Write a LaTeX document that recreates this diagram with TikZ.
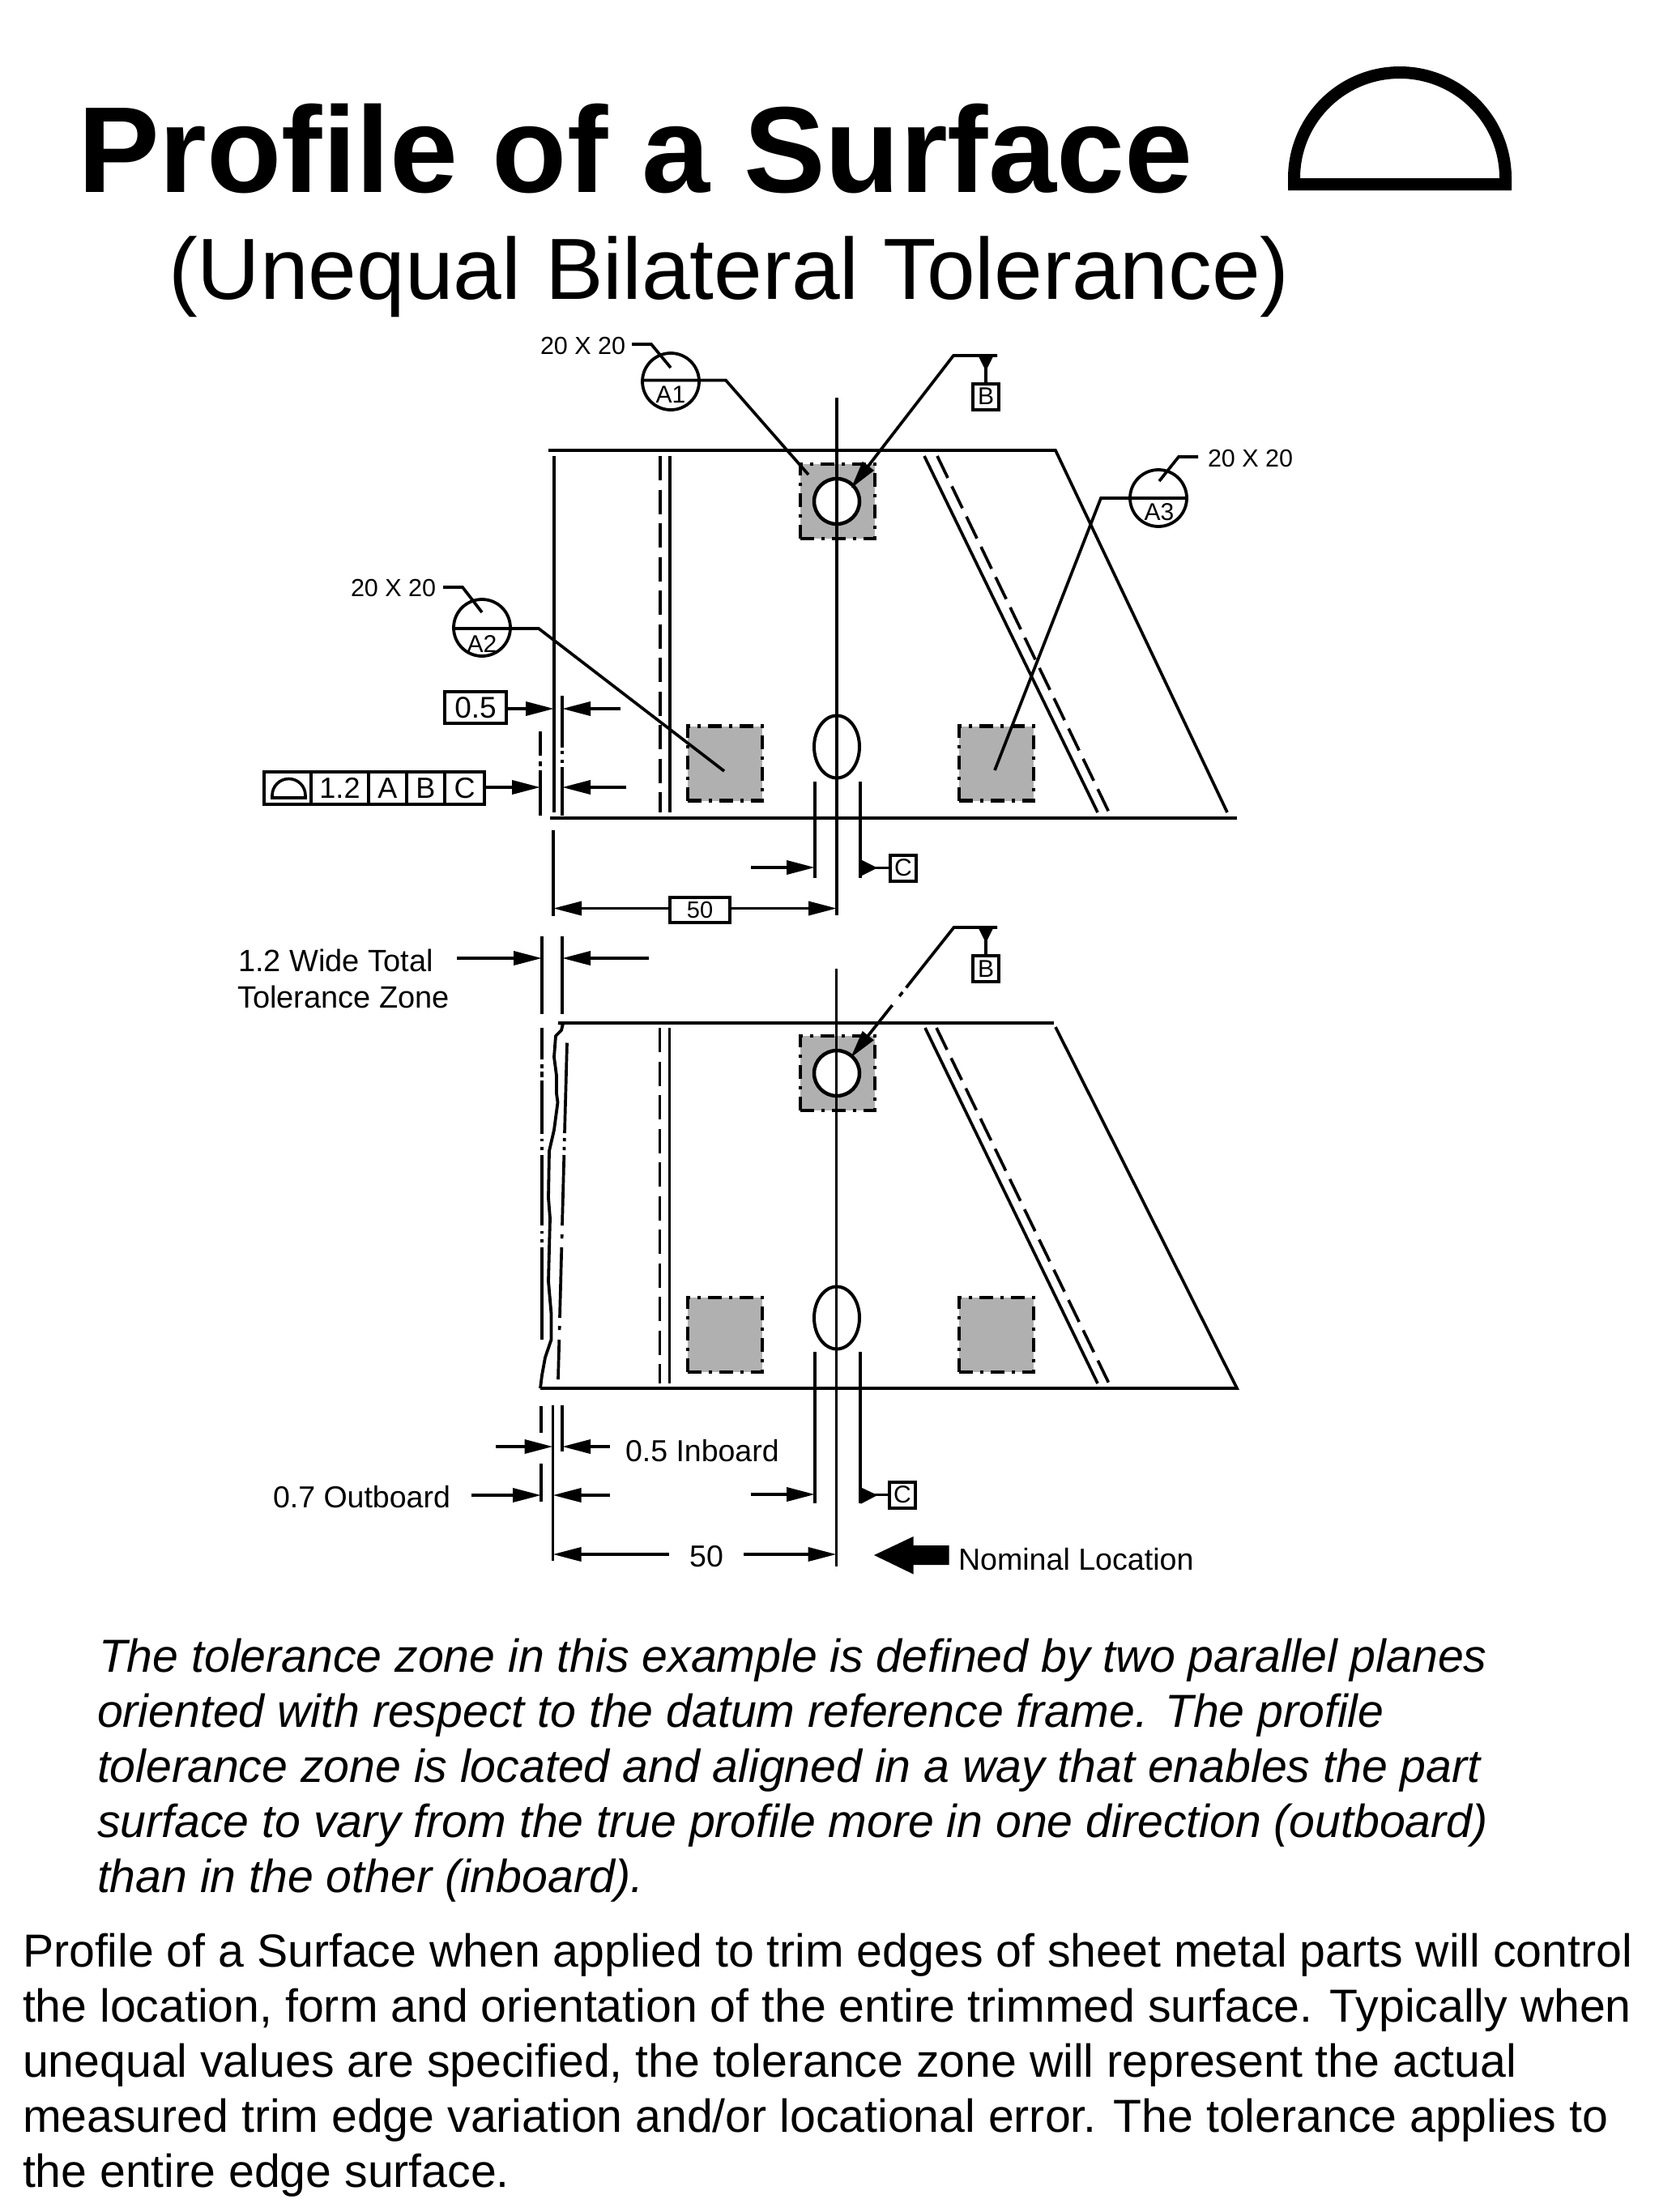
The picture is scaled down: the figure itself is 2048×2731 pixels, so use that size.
\documentclass[tikz,border=0pt]{standalone}
\usepackage{fontspec}
\setmainfont{Liberation Sans}
\usetikzlibrary{arrows.meta,shapes.geometric}
\newcommand{\fsz}[1]{\fontsize{#1}{#1}\selectfont}
\definecolor{zonegray}{HTML}{B0B0B0}
\tikzset{
  ln/.style={line width=3.7pt,line cap=butt,line join=miter},
  ldash/.style={ln,dash pattern=on 30pt off 11.5pt},
  dimarrow/.style={ln,-{Triangle[length=35pt,width=17pt]}},
  zone/.style={rectangle,draw=black,fill=zonegray,line width=4.5pt,minimum width=92pt,minimum height=92pt,inner sep=0pt,outer sep=0pt,dash pattern=on 17pt off 9pt on 4pt off 9pt},
  hole/.style={circle,draw=black,fill=white,line width=4.5pt,minimum size=56pt,inner sep=0pt,outer sep=0pt},
  slot/.style={ellipse,draw=black,line width=4pt,minimum width=56pt,minimum height=77pt,inner sep=0pt,outer sep=0pt},
  balloon/.style={circle,draw=black,line width=3.8pt,minimum size=70pt,inner sep=0pt,outer sep=0pt},
  txt/.style={inner sep=0pt,outer sep=0pt,anchor=base west},
  ctxt/.style={inner sep=0pt,outer sep=0pt,anchor=base},
  databox/.style={rectangle,draw=black,line width=4pt,minimum size=32pt,inner sep=0pt,outer sep=0pt,font=\fsz{30},text height=20pt,text depth=0pt},
  fcf/.style={rectangle,draw=black,line width=4pt,minimum height=40pt,inner sep=0pt,outer sep=0pt,font=\fsz{36},text height=26pt,text depth=0pt},
  dimbox/.style={rectangle,draw=black,line width=4pt,inner sep=0pt,outer sep=0pt}
}
\begin{document}
\begin{tikzpicture}[x=1pt,y=-1pt]
\useasboundingbox (0,0) rectangle (2048,2731);

% Title
\node[txt,font=\bfseries\fsz{151}] (title) at (96,237) {Profile of a Surface};
\node[txt,font=\fsz{107.3}] (subtitle) at (208,369) {(Unequal Bilateral Tolerance)};
\draw[line width=15pt,line join=miter] (1597.5,227.5) -- (1597.5,220) arc[start angle=180,end angle=0,radius=130.5pt] -- (1858.5,227.5) -- cycle;

% ---------- Upper view ----------
\node[zone] (s1) at (1034,619) {};
\node[zone] (s2) at (895,942.5) {};
\node[zone] (s3) at (1230,942.5) {};
\node[hole] (h1) at (1033,619) {};
\node[slot] (e1) at (1033,922) {};

\coordinate (ctop1) at (1033,491);
\coordinate (cbot1) at (1033,1130);
\draw[ln] (ctop1) -- (cbot1);

\draw[ln] (677,556) -- (1303,556) -- (1515,1003);
\draw[ln] (679,1010) -- (1527,1010);
\draw[ln] (684,563) -- (684,1003);
\draw[ln] (683,1025) -- (683,1131);
\draw[ldash] (815,563) -- (815,1003);
\draw[ln] (827,563) -- (827,1003);
\draw[ln] (1141,563) -- (1355,1003);
\draw[ldash] (1157,563) -- (1369,1003);
\draw[ln] (1006,965) -- (1006,1084);
\draw[ln] (1062,965) -- (1062,1084);

% tolerance boundary lines
\draw[ln] (694,859) -- (694,923) (694,927) -- (694,931) (694,938) -- (694,942) (694,947) -- (694,1007);
\draw[ln] (667,903) -- (667,933) (667,940) -- (667,946) (667,951) -- (667,1007);

% Balloons
\node[balloon] (A1) at (828,471) {};
\node[ctxt,font=\fsz{30}] (A1t) at (828,497) {A1};
\node[balloon] (A2) at (595,775) {};
\node[ctxt,font=\fsz{30}] (A2t) at (595,805) {A2};
\node[balloon] (A3) at (1430,615) {};
\node[ctxt,font=\fsz{30}] (A3t) at (1431,642) {A3};
\node[txt,font=\fsz{30.5}] (t20a) at (667,437) {20 X 20};
\node[txt,font=\fsz{30.5}] (t20b) at (433,736) {20 X 20};
\node[txt,font=\fsz{30.5}] (t20c) at (1491,576) {20 X 20};

\coordinate (a1k) at (896,469.5);
\coordinate (a1e) at (998,586);
\draw[ln] (A1.west |- a1k) -- (a1k) -- (a1e);
\coordinate (a1l) at (780,425);
\coordinate (a1m) at (804,425);
\coordinate (a1n) at (828,454);
\draw[ln] (a1l) -- (a1m) -- (a1n);

\coordinate (a2k) at (665,776);
\coordinate (a2e) at (894,952);
\draw[ln] (A2.west |- a2k) -- (a2k) -- (a2e);
\coordinate (a2l) at (547,725);
\coordinate (a2m) at (571,725);
\coordinate (a2n) at (595,756);
\draw[ln] (a2l) -- (a2m) -- (a2n);

\coordinate (a3k) at (1359,615);
\coordinate (a3e) at (1228,951);
\draw[ln] (A3.east) -- (a3k) -- (a3e);
\coordinate (a3l) at (1479,564);
\coordinate (a3m) at (1455,564);
\coordinate (a3n) at (1431,594);
\draw[ln] (a3l) -- (a3m) -- (a3n);

% Datum B upper
\node[databox] (B1) at (1217,489.5) {B};
\coordinate (b1r) at (1231,439);
\coordinate (b1k) at (1177,439);
\coordinate (b1t) at (1050.5,603);
\draw[dimarrow] (b1r) -- (b1k) -- (b1t);
\draw[fill=black,line width=1pt] (1209,441) -- (1225,441) -- (1217,457) -- cycle;
\draw[ln] (1217,441) -- (B1.north);

% 0.5 frame and arrows
\node[dimbox,minimum width=76pt,minimum height=39pt,font=\fsz{37},text height=27pt,text depth=0pt] (tol05) at (587,873) {0.5};
\coordinate (a05l) at (684,875);
\coordinate (a05r) at (694,875);
\coordinate (a05t) at (766,875);
\draw[dimarrow] (tol05.east |- a05l) -- (a05l);
\draw[dimarrow] (a05t) -- (a05r);

% Feature control frame
\node[fcf,minimum width=58pt] (f1) at (355,972.5) {};
\node[fcf,minimum width=71pt] (f2) at (419.5,972.5) {1.2};
\node[fcf,minimum width=47pt] (f3) at (478.5,972.5) {A};
\node[fcf,minimum width=47pt] (f4) at (525.5,972.5) {B};
\node[fcf,minimum width=49pt] (f5) at (573.5,972.5) {C};
\draw[line width=3.6pt] (336,985) -- (336,982) arc[start angle=180,end angle=0,radius=20.5pt] -- (377,985) -- cycle;
\coordinate (fl) at (667,972);
\coordinate (fr) at (694,972);
\coordinate (ft) at (773,972);
\draw[dimarrow] (f5.east |- fl) -- (fl);
\draw[dimarrow] (ft) -- (fr);

% Datum C upper
\node[databox] (C1) at (1115,1071.5) {C};
\draw[fill=black,line width=1pt] (1063,1062) -- (1063,1081) -- (1082,1071.5) -- cycle;
\draw[ln] (C1.west) -- (1075,1071.5);
\coordinate (c1a) at (926.5,1071);
\coordinate (c1b) at (1006,1071);
\draw[dimarrow] (c1a) -- (c1b);

% 50 boxed
\node[dimbox,minimum width=74pt,minimum height=31pt,font=\fsz{29},text height=21pt,text depth=0pt] (d50) at (864,1123) {50};
\coordinate (d50l) at (683,1121.5);
\coordinate (d50r) at (1033,1121.5);
\draw[dimarrow] (d50.west |- d50l) -- (d50l);
\draw[dimarrow] (d50.east |- d50r) -- (d50r);

% ---------- Lower view ----------
\node[zone] (s4) at (1034,1325) {};
\node[zone] (s5) at (895,1648) {};
\node[zone] (s6) at (1230,1648) {};
\node[hole] (h2) at (1033,1325) {};
\node[slot] (e2) at (1033,1627) {};

\coordinate (ctop2) at (1032.5,1196);
\coordinate (cbot2) at (1032.5,1934);
\draw[ln] (ctop2) -- (cbot2);

\draw[ln] (689,1263) -- (1301,1263);
\draw[ln] (1303,1268) -- (1527,1714) -- (667,1714);
\draw[ldash] (814.5,1269) -- (814.5,1708);
\draw[ln] (826.5,1269) -- (826.5,1708);
\draw[ln] (1142,1269) -- (1355,1708);
\draw[ldash] (1156,1269) -- (1369,1708);
\draw[ln] (1006,1669) -- (1006,1856);
\draw[ln] (1062,1669) -- (1062,1856);

% actual surface
\draw[line width=3.8pt,line join=round] (689,1263) -- (695,1264) -- (693,1272) -- (686,1279) -- (684,1305) -- (687,1328) -- (687,1350) -- (688.5,1361) -- (684,1395) -- (678,1421) -- (677,1479) -- (679,1504) -- (677,1582) -- (680.5,1622) -- (680.5,1654) -- (673,1676) -- (669,1698) -- (667,1714);

% tolerance boundaries lower
\draw[ln] (669,1156) -- (669,1252);
\draw[ln] (694,1156) -- (694,1252);
\draw[ln] (669,1269) -- (669,1307.5) (669,1314) -- (669,1319) (669,1323) -- (669,1330) (669,1334) -- (669,1400) (669,1406) -- (669,1409) (669,1416) -- (669,1420) (669,1426) -- (669,1513) (669,1520) -- (669,1523) (669,1530) -- (669,1534) (669,1540) -- (669,1654);
\draw[ln] (700,1287.5) -- (697,1399) (696.8,1405) -- (696.7,1409) (696.5,1416) -- (696.4,1420) (696.3,1426) -- (694,1513) (693.7,1524) -- (693.6,1529) (693.3,1540) -- (691,1627) (690.7,1637) -- (690.6,1642) (690.3,1654) -- (689,1703);
\draw[ln] (668,1736) -- (668,1769) (668,1807) -- (668,1854);
\draw[ln] (682.5,1735) -- (682.5,1927);
\draw[ln] (694,1735) -- (694,1792);

% Datum B lower
\node[databox] (B2) at (1217,1196) {B};
\coordinate (b2r) at (1231,1145);
\coordinate (b2k) at (1177.5,1145);
\coordinate (b2g) at (1118.6,1219.4);
\coordinate (b2d) at (1114.2,1225);
\coordinate (b2f) at (1110.2,1230);
\coordinate (b2h) at (1101.5,1241);
\coordinate (b2t) at (1050,1306);
\draw[ln] (b2r) -- (b2k) -- (b2g);
\draw[ln] (b2d) -- (b2f);
\draw[dimarrow] (b2h) -- (b2t);
\draw[fill=black,line width=1pt] (1209,1147) -- (1225,1147) -- (1217,1163) -- cycle;
\draw[ln] (1217,1147) -- (B2.north);

% Datum C lower
\node[databox] (C2) at (1114,1845.5) {C};
\draw[fill=black,line width=1pt] (1063,1837) -- (1063,1856) -- (1082,1846) -- cycle;
\draw[ln] (C2.west) -- (1075,1845.5);
\coordinate (c2a) at (926.5,1845);
\coordinate (c2b) at (1006,1845);
\draw[dimarrow] (c2a) -- (c2b);

% 1.2 wide
\node[txt,font=\fsz{38}] (wide1) at (294,1199) {1.2 Wide Total};
\node[txt,font=\fsz{38}] (wide2) at (293,1244) {Tolerance Zone};
\coordinate (w1a) at (564,1183);
\coordinate (w1b) at (669,1183);
\coordinate (w2a) at (801,1183);
\coordinate (w2b) at (694,1183);
\draw[dimarrow] (w1a) -- (w1b);
\draw[dimarrow] (w2a) -- (w2b);

% 0.5 Inboard, 0.7 Outboard
\node[txt,font=\fsz{37.5}] (inb) at (772,1804) {0.5 Inboard};
\node[txt,font=\fsz{37.5}] (outb) at (337,1861) {0.7 Outboard};
\coordinate (i1a) at (612,1786);
\coordinate (i1b) at (682.5,1786);
\coordinate (i2a) at (753,1786);
\coordinate (i2b) at (694,1786);
\draw[dimarrow] (i1a) -- (i1b);
\draw[dimarrow] (i2a) -- (i2b);
\coordinate (o1a) at (582,1846);
\coordinate (o1b) at (668,1846);
\coordinate (o2a) at (753,1846);
\coordinate (o2b) at (682.5,1846);
\draw[dimarrow] (o1a) -- (o1b);
\draw[dimarrow] (o2a) -- (o2b);

% 50 open
\node[ctxt,font=\fsz{37.5}] (d50b) at (872,1934) {50};
\coordinate (n1a) at (825.5,1919);
\coordinate (n1b) at (682.5,1919);
\coordinate (n2a) at (918,1919);
\coordinate (n2b) at (1032.5,1919);
\draw[dimarrow] (n1a) -- (n1b);
\draw[dimarrow] (n2a) -- (n2b);

% Nominal Location
\draw[fill=black,draw=none] (1079,1920) -- (1127.5,1897) -- (1127.5,1908) -- (1171.5,1908) -- (1171.5,1932) -- (1127.5,1932) -- (1127.5,1943.5) -- cycle;
\node[txt,font=\fsz{37.6}] (nom) at (1183,1938) {Nominal Location};

% Paragraphs
\node[txt,font=\itshape\fsz{57.2}] (p1) at (122,2064) {The tolerance zone in this example is defined by two parallel planes};
\node[txt,font=\itshape\fsz{57.2}] (p2) at (120,2132) {oriented with respect to the datum reference frame. The profile};
\node[txt,font=\itshape\fsz{57.2}] (p3) at (120,2200) {tolerance zone is located and aligned in a way that enables the part};
\node[txt,font=\itshape\fsz{57.2}] (p4) at (120,2268) {surface to vary from the true profile more in one direction (outboard)};
\node[txt,font=\itshape\fsz{57.2}] (p5) at (120,2336.6) {than in the other (inboard).};
\node[txt,font=\fsz{57.2}] (q1) at (28,2428) {Profile of a Surface when applied to trim edges of sheet metal parts will control};
\node[txt,font=\fsz{57.2}] (q2) at (28,2496) {the location, form and orientation of the entire trimmed surface. Typically when};
\node[txt,font=\fsz{57.2}] (q3) at (28,2564) {unequal values are specified, the tolerance zone will represent the actual};
\node[txt,font=\fsz{57.2}] (q4) at (28,2632) {measured trim edge variation and/or locational error. The tolerance applies to};
\node[txt,font=\fsz{57.2}] (q5) at (28,2700) {the entire edge surface.};
\end{tikzpicture}
\end{document}
